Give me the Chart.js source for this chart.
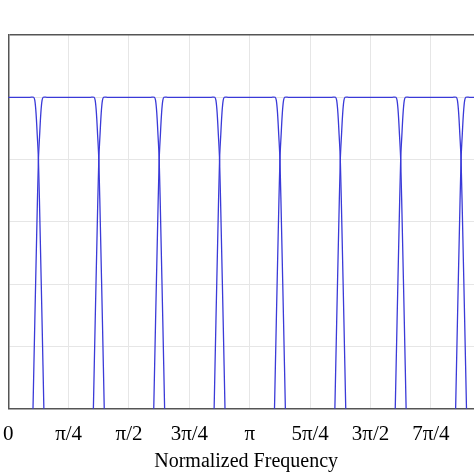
<!DOCTYPE html>
<html>
<head>
<script src="https://cdn.jsdelivr.net/npm/chart.js@4"></script>
<style>
body{margin:0;background:#fff;overflow:hidden}
#box{position:absolute;left:-10px;top:0;width:494px;height:474px}
</style>
</head>
<body>
<div id="box"><canvas id="myChart"></canvas></div>
<script>
// x in units of pi/4
const tickLabels = ['0','\u03c0/4','\u03c0/2','3\u03c0/4','\u03c0','5\u03c0/4','3\u03c0/2','7\u03c0/4']
const crossings = [0.5,1.5,2.5,3.5,4.5,5.5,6.5,7.5]   // where neighbouring bands cross
const edgeOffsets = [-0.14,-0.08,-0.06,-0.04,-0.02,0,0.03,0.06,0.09,0.13]
const edgeValues  = [1,1,0.99,0.95,0.88,0.8,0.55,0.28,0,-0.4]
const xMax = 7.88

const falling = c => edgeOffsets.map((o,i)=>({x:c+o, y:edgeValues[i]}))
const rising = c => edgeOffsets.map((o,i)=>({x:c-o, y:edgeValues[i]})).reverse()

const datasets = []
for(let k=0;k<=crossings.length;k++){
    let pts = []
    if(k==0) pts.push({x:0,y:1})
    else pts = pts.concat(rising(crossings[k-1]))
    if(k<crossings.length) pts = pts.concat(falling(crossings[k]))
    else pts.push({x:xMax,y:1})
    datasets.push({data:pts, borderColor:'#3a3ad8', borderWidth:1.3, pointRadius:0, fill:false, tension:0.3})
}

const font = {family:'Liberation Serif', size:21}

new Chart('myChart', {
  type:'line',
  data:{datasets},
  options:{
    responsive:true, maintainAspectRatio:false, animation:false,
    layout:{padding:{top:35,left:0,right:0,bottom:0}},
    plugins:{legend:{display:false}, tooltip:{enabled:false}},
    scales:{
      x:{type:'linear', min:0, max:xMax,
         afterBuildTicks: ax => { ax.ticks = tickLabels.map((t,i)=>({value:i})) },
         ticks:{color:'#000', font, padding:13, maxRotation:0, callback:v=>tickLabels[v]},
         grid:{color:'#e6e6e6', drawTicks:false},
         border:{color:'#555', width:1.5},
         title:{display:true, text:'Normalized Frequency', color:'#000', font:{family:'Liberation Serif', size:20}, padding:{top:-10,bottom:0}}},
      y:{min:0, max:1.2,
         ticks:{display:false, stepSize:0.2},
         grid:{color:c=>c.tick.value>=1.19?'#555':'#e6e6e6', lineWidth:c=>c.tick.value>=1.19?1.5:1, drawTicks:false},
         border:{color:'#555', width:1.5}}
    }
  }
})
</script>
</body>
</html>
